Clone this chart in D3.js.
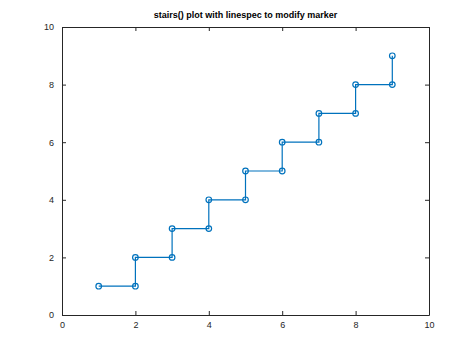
<!DOCTYPE html>
<html>
<head>
<meta charset="utf-8">
<script src="https://cdn.jsdelivr.net/npm/d3@7"></script>
<style>
  body { margin: 0; background: #fff; }
  svg text { font-family: "Liberation Sans", Arial, sans-serif; }
</style>
</head>
<body>
<div id="chart"></div>
<script>
// stairs data: x = 1..9, y = 1..9
const xValues = [1, 2, 3, 4, 5, 6, 7, 8, 9];
const yValues = [1, 2, 3, 4, 5, 6, 7, 8, 9];
const xTicks = [0, 2, 4, 6, 8, 10];
const yTicks = [0, 2, 4, 6, 8, 10];
const title = "stairs() plot with linespec to modify marker";

const width = 474, height = 355;
const margin = { left: 62, right: 45, top: 27, bottom: 40 };

let svg = d3.select('#chart')
    .append('svg')
    .attr('width', width)
    .attr('height', height);

let xScale = d3.scaleLinear()
    .domain([0, 10])
    .range([margin.left, width - margin.right]);

let yScale = d3.scaleLinear()
    .domain([0, 10])
    .range([height - margin.bottom, margin.top]);

//build the step points like stairs() does
let steps = [];
xValues.forEach((x, i) => {
    if (i > 0) steps.push({ x: x, y: yValues[i - 1] });
    steps.push({ x: x, y: yValues[i] });
});

const axisColor = '#262626';

//axes with inward ticks, mirrored on top and right
let axisBottomG = svg.append('g')
    .attr('transform', `translate(0, ${yScale(0)})`)
    .call(d3.axisBottom(xScale).tickValues(xTicks).tickSizeInner(-4).tickSizeOuter(0).tickPadding(7));
let axisTopG = svg.append('g')
    .attr('transform', `translate(0, ${yScale(10)})`)
    .call(d3.axisTop(xScale).tickValues(xTicks).tickSizeInner(-4).tickSizeOuter(0).tickFormat(''));
let axisLeftG = svg.append('g')
    .attr('transform', `translate(${xScale(0)}, 0)`)
    .call(d3.axisLeft(yScale).tickValues(yTicks).tickSizeInner(-4).tickSizeOuter(0).tickPadding(8));
let axisRightG = svg.append('g')
    .attr('transform', `translate(${xScale(10)}, 0)`)
    .call(d3.axisRight(yScale).tickValues(yTicks).tickSizeInner(-4).tickSizeOuter(0).tickFormat(''));

[axisBottomG, axisTopG, axisLeftG, axisRightG].forEach(g => {
    g.select('.domain').attr('stroke', axisColor).attr('stroke-width', 1);
    g.selectAll('.tick line').attr('stroke', axisColor);
    g.selectAll('.tick text')
        .attr('fill', axisColor)
        .attr('font-size', '9px')
        .attr('font-family', '"Liberation Sans", Arial, sans-serif');
});

//stairs line
const lineColor = '#0072bd';
svg.append('path')
    .datum(steps)
    .attr('d', d3.line().x(d => xScale(d.x)).y(d => yScale(d.y)))
    .attr('fill', 'none')
    .attr('stroke', lineColor)
    .attr('stroke-width', 1.2);

//circle markers
svg.append('g')
    .selectAll('circle')
    .data(steps)
    .join('circle')
    .attr('cx', d => xScale(d.x))
    .attr('cy', d => yScale(d.y))
    .attr('r', 2.8)
    .attr('fill', 'none')
    .attr('stroke', lineColor)
    .attr('stroke-width', 1.2);

//title
svg.append('text')
    .attr('x', (xScale(0) + xScale(10)) / 2)
    .attr('y', 18)
    .attr('text-anchor', 'middle')
    .attr('font-size', '9px')
    .attr('font-weight', 'bold')
    .attr('fill', '#000')
    .text(title);
</script>
</body>
</html>
